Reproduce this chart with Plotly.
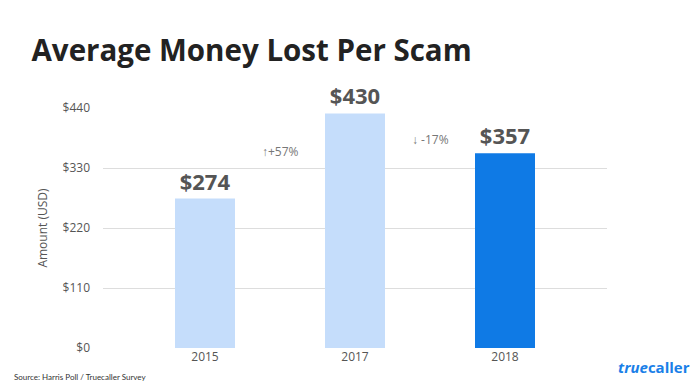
import plotly.graph_objects as go

years = ["2015", "2017", "2018"]
amounts = [274, 430, 357]
bar_colors = ["#c5ddfb", "#c5ddfb", "#0f7ae5"]
value_labels = ["$274", "$430", "$357"]
tick_vals = [0, 110, 220, 330, 440]
tick_text = ["$0", "$110", "$220", "$330", "$440"]
change_labels = ["\u2191+57%", "\u2193 -17%"]
change_x = [0.5, 1.5]
change_y = [360, 383]

fig = go.Figure()
fig.add_trace(go.Bar(
    x=years, y=amounts,
    marker=dict(color=bar_colors, line=dict(width=0)),
    width=0.4,
    text=value_labels, textposition="outside", cliponaxis=False,
    textfont=dict(family="Open Sans", size=22, color="#555555", weight="bold"),
))

for cx, cy, lab in zip(change_x, change_y, change_labels):
    fig.add_annotation(x=cx, y=cy, xref="x", yref="y", text=lab, showarrow=False,
                       font=dict(family="Open Sans", size=12, color="#777777"))

fig.add_annotation(x=-0.18, y=-0.121, xref="paper", yref="paper", xanchor="left", yanchor="middle",
                   text="Source: Harris Poll / Truecaller Survey", showarrow=False,
                   font=dict(family="Lato", size=8, color="#333333"))
fig.add_annotation(x=1.168, y=-0.079, xref="paper", yref="paper", xanchor="right", yanchor="middle",
                   text="<b><i>true</i>caller</b>", showarrow=False,
                   font=dict(family="Open Sans", size=15, color="#1a7fe8"))

fig.update_layout(
    width=700, height=391,
    margin=dict(l=103, r=93, t=108, b=43),
    paper_bgcolor="white", plot_bgcolor="white",
    showlegend=False,
    title=dict(text="<b>Average Money Lost Per Scam</b>", x=0.045, xanchor="left",
               y=0.87, yanchor="middle",
               font=dict(family="Open Sans", size=29.5, color="#222222")),
)
fig.update_xaxes(type="category", range=[-0.68, 2.68], showgrid=False, showline=False,
                 ticks="", tickfont=dict(family="Open Sans", size=12, color="#555555"))
fig.update_yaxes(range=[0, 440], tickvals=tick_vals, ticktext=tick_text,
                 showgrid=True, gridcolor="#dddddd", gridwidth=1, zeroline=False,
                 showline=False, ticks="", ticklabelstandoff=12,
                 tickfont=dict(family="Open Sans", size=12, color="#555555"),
                 title=dict(text="Amount (USD)", standoff=12,
                            font=dict(family="Open Sans", size=12, color="#555555")))

fig.write_html("out.html")
